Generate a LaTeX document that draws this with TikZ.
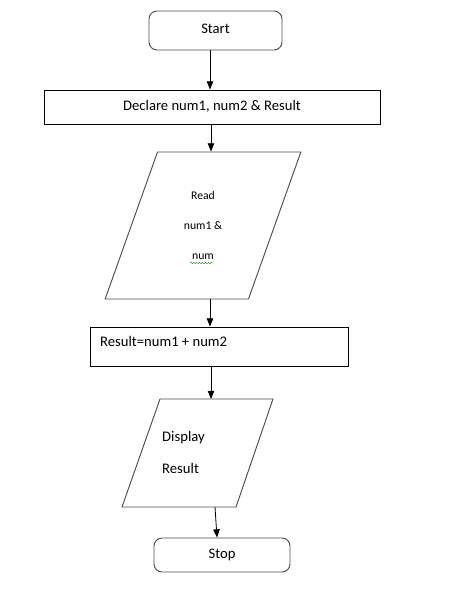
\documentclass[tikz,border=0pt]{standalone}
\usepackage{fontspec}
\setmainfont{Carlito}
\usepackage{tikz}
\usetikzlibrary{shapes,arrows,arrows.meta,decorations.pathmorphing}

\tikzset{
  term/.style={draw=black!70,line width=0.8pt,rounded corners=0.24cm,inner sep=0pt,font=\fontsize{12.5}{15}\selectfont},
  proc/.style={draw=black,line width=0.8pt,inner sep=0pt,font=\fontsize{12.5}{15}\selectfont},
  io/.style={draw=black!70,line width=0.8pt,trapezium,trapezium stretches=true,inner sep=1pt},
  arr/.style={-{Triangle[width=5.5pt,length=7pt]},line width=0.7pt}
}

\begin{document}
\begin{tikzpicture}[scale=1]
\useasboundingbox (0,0) rectangle (13.83,-18.33);
%-------->nodes<--------------
\node[term,minimum width=3.99cm,minimum height=1.17cm] (start) at (6.465,-0.915) {\raisebox{0.13cm}{Start}};
\node[proc,minimum width=10.08cm,minimum height=1.02cm] (decl) at (6.36,-3.21) {\raisebox{0.09cm}{Declare num1, num2 \& Result}};
\node[io,trapezium left angle=71.9,trapezium right angle=108.1,
      minimum width=5.88cm,minimum height=4.41cm,align=center,
      font=\fontsize{10}{26}\selectfont] (read) at (6.09,-6.765) {Read\\num1 \&\\num};
\node[proc,minimum width=7.74cm,minimum height=1.17cm] (result) at (6.57,-10.395) {};
\node[anchor=west,font=\fontsize{12.5}{15}\selectfont,inner sep=0pt] (resulttxt) at (3.0,-10.23) {Result=num1 + num2};
%-------->display box<--------------
\draw[draw=black!70,line width=0.8pt] (4.8,-11.97) -- (8.19,-11.97) -- (7.08,-15.21) -- (3.66,-15.21) -- cycle;
\coordinate (dispN) at (6.33,-11.97);
\coordinate (dispS) at (6.45,-15.21);
\node[anchor=west,align=left,inner sep=0pt,font=\fontsize{12.5}{28}\selectfont] (disptxt) at (4.86,-13.575) {Display\\Result};
\node[term,minimum width=4.08cm,minimum height=1.02cm] (stop) at (6.66,-16.65) {\raisebox{0.05cm}{Stop}};
%------------->arrows<------------------
\draw[arr] ([xshift=-0.165cm]start.south) -- ([xshift=-0.165cm]start.south |- decl.north);
\draw[arr] ([xshift=-0.03cm]decl.south) -- ([xshift=-0.03cm]decl.south |- read.north);
\draw[arr] ([xshift=0.21cm]read.south) -- ([xshift=0.21cm]read.south |- result.north);
\draw[arr] ([xshift=-0.24cm]result.south) -- (dispN);
\draw[arr] (dispS) -- ([xshift=-0.15cm]stop.north);
%-----------> spell mark <---------------
\draw[green!50!black,line width=0.3pt,decorate,decoration={snake,amplitude=0.6pt,segment length=2.5pt}]
  (5.7,-7.89) -- (6.38,-7.89);
\end{tikzpicture}
\end{document}
